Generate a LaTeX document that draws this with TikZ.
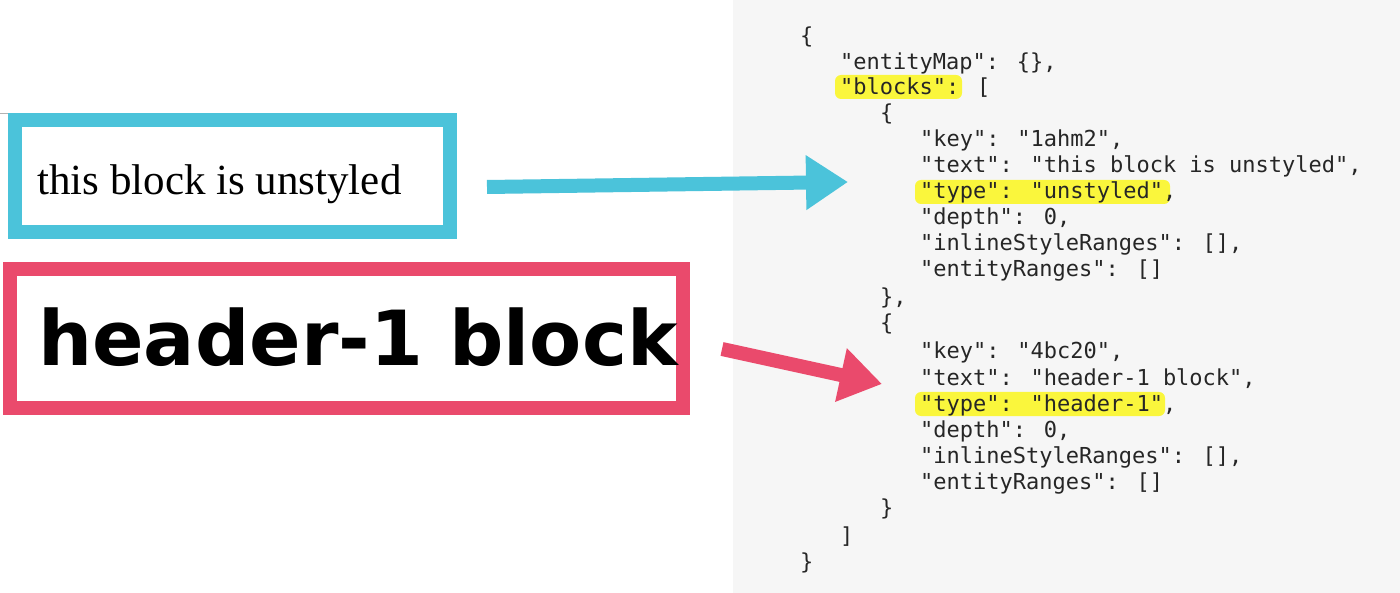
\documentclass[tikz,border=0pt]{standalone}
\usepackage{fontspec}
\setmainfont{Liberation Serif}
\newfontfamily\codefont{DejaVu Sans Mono}
\newfontfamily\hfont{DejaVu Sans}
\usetikzlibrary{arrows.meta}
\definecolor{cyanb}{HTML}{4BC3DA}
\definecolor{redb}{HTML}{EA4A6C}
\definecolor{panel}{HTML}{F6F6F6}
\definecolor{hl}{HTML}{FAF63C}
\tikzset{
  code/.style={anchor=base west, inner sep=0pt, font=\codefont\fontsize{22}{22}\selectfont, text=black!85},
  hlbox/.style={fill=hl, rounded corners=6pt, draw=none},
  bigarrow/.style={line width=14pt, -{Triangle[length=42pt,width=52pt]}}
}
\begin{document}
\begin{tikzpicture}[x=1pt,y=-1pt]
\useasboundingbox (0,0) rectangle (1400,593);
\fill[white] (0,0) rectangle (1400,593);
\fill[panel] (733,0) rectangle (1400,593);
\draw[gray!60, line width=0.8pt] (0,113) -- (10,113);
% highlights
\fill[hlbox] (835,75) rectangle (962,99);
\fill[hlbox] (915,180) rectangle (1170,204);
\fill[hlbox] (915,392) rectangle (1165,416);
% code
\node[code] (l1) at (800,44) {\{};
\node[code] (l2) at (840,70) {"entityMap": \{\},};
\node[code] (l3) at (840,95) {"blocks": [};
\node[code] (l4) at (880,121) {\{};
\node[code] (l5) at (920,147) {"key": "1ahm2",};
\node[code] (l6) at (920,173) {"text": "this block is unstyled",};
\node[code] (l7) at (920,199) {"type": "unstyled",};
\node[code] (l8) at (920,225) {"depth": 0,};
\node[code] (l9) at (920,251) {"inlineStyleRanges": [],};
\node[code] (l10) at (920,277) {"entityRanges": []};
\node[code] (l11) at (880,305) {\},};
\node[code] (l12) at (880,331) {\{};
\node[code] (l13) at (920,359) {"key": "4bc20",};
\node[code] (l14) at (920,385) {"text": "header-1 block",};
\node[code] (l15) at (920,411) {"type": "header-1",};
\node[code] (l16) at (920,437) {"depth": 0,};
\node[code] (l17) at (920,463) {"inlineStyleRanges": [],};
\node[code] (l18) at (920,489) {"entityRanges": []};
\node[code] (l19) at (880,515) {\}};
\node[code] (l20) at (840,543) {]};
\node[code] (l21) at (800,569) {\}};
% boxes
\draw[cyanb, line width=14pt] (15,120) rectangle (450,232);
\node[anchor=base west, inner sep=0pt, font=\fontsize{43}{43}\selectfont] (t1) at (37,195) {this block is unstyled};
\draw[redb, line width=14pt] (10,269) rectangle (683,408);
\node[anchor=base west, inner sep=0pt, font=\hfont\bfseries\fontsize{76}{76}\selectfont] (t2) at (38,366) {header-1 block};
% arrows
\coordinate (a1s) at (487,187);
\coordinate (a1e) at (848,182);
\coordinate (a2s) at (722,349);
\coordinate (a2e) at (882,384);
\draw[cyanb, bigarrow] (a1s) -- (a1e);
\draw[redb, bigarrow] (a2s) -- (a2e);
\end{tikzpicture}
\end{document}
